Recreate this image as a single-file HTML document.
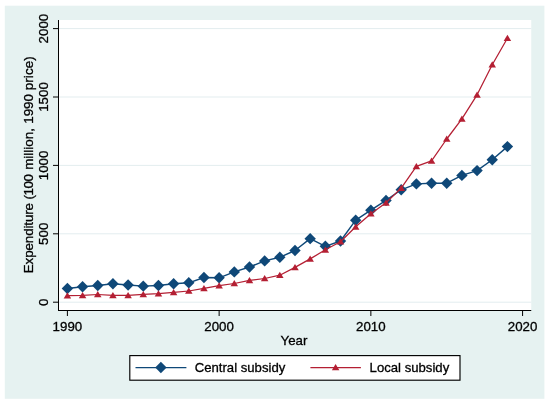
<!DOCTYPE html>
<html><head><meta charset="utf-8"><title>Chart</title>
<style>html,body{margin:0;padding:0;background:#fff}body{width:550px;height:404px;overflow:hidden}</style></head>
<body>
<svg width="550" height="404" viewBox="0 0 550 404" style="display:block">
<rect x="0" y="0" width="550" height="404" fill="#fff"/>
<rect x="4.8" y="5.7" width="539.6" height="393.1" fill="#e6f2f1"/>
<rect x="58.5" y="20" width="472.75" height="290.5" fill="#fff"/>
<line x1="58.5" x2="531.25" y1="302.20" y2="302.20" stroke="#e3edef" stroke-width="1"/>
<line x1="58.5" x2="531.25" y1="233.80" y2="233.80" stroke="#e3edef" stroke-width="1"/>
<line x1="58.5" x2="531.25" y1="165.40" y2="165.40" stroke="#e3edef" stroke-width="1"/>
<line x1="58.5" x2="531.25" y1="97.00" y2="97.00" stroke="#e3edef" stroke-width="1"/>
<line x1="58.5" x2="531.25" y1="28.60" y2="28.60" stroke="#e3edef" stroke-width="1"/>
<polyline points="67.40,288.50 82.57,286.70 97.75,285.50 112.92,283.70 128.09,285.05 143.26,286.15 158.44,285.45 173.61,283.70 188.78,282.80 203.96,277.50 219.13,277.80 234.30,271.90 249.48,267.00 264.65,260.90 279.82,257.30 295.00,250.50 310.17,238.65 325.34,246.30 340.51,241.00 355.69,220.20 370.86,210.20 386.03,200.40 401.21,189.80 416.38,183.90 431.55,183.30 446.73,183.20 461.90,175.40 477.07,170.60 492.24,159.80 507.42,146.60" fill="none" stroke="#0f4878" stroke-width="1.4" stroke-linejoin="round"/>
<path d="M61.70 288.50L67.40 282.80L73.10 288.50L67.40 294.20Z" fill="#0f4878"/>
<path d="M76.87 286.70L82.57 281.00L88.27 286.70L82.57 292.40Z" fill="#0f4878"/>
<path d="M92.05 285.50L97.75 279.80L103.45 285.50L97.75 291.20Z" fill="#0f4878"/>
<path d="M107.22 283.70L112.92 278.00L118.62 283.70L112.92 289.40Z" fill="#0f4878"/>
<path d="M122.39 285.05L128.09 279.35L133.79 285.05L128.09 290.75Z" fill="#0f4878"/>
<path d="M137.56 286.15L143.26 280.45L148.96 286.15L143.26 291.85Z" fill="#0f4878"/>
<path d="M152.74 285.45L158.44 279.75L164.14 285.45L158.44 291.15Z" fill="#0f4878"/>
<path d="M167.91 283.70L173.61 278.00L179.31 283.70L173.61 289.40Z" fill="#0f4878"/>
<path d="M183.08 282.80L188.78 277.10L194.48 282.80L188.78 288.50Z" fill="#0f4878"/>
<path d="M198.26 277.50L203.96 271.80L209.66 277.50L203.96 283.20Z" fill="#0f4878"/>
<path d="M213.43 277.80L219.13 272.10L224.83 277.80L219.13 283.50Z" fill="#0f4878"/>
<path d="M228.60 271.90L234.30 266.20L240.00 271.90L234.30 277.60Z" fill="#0f4878"/>
<path d="M243.78 267.00L249.48 261.30L255.18 267.00L249.48 272.70Z" fill="#0f4878"/>
<path d="M258.95 260.90L264.65 255.20L270.35 260.90L264.65 266.60Z" fill="#0f4878"/>
<path d="M274.12 257.30L279.82 251.60L285.52 257.30L279.82 263.00Z" fill="#0f4878"/>
<path d="M289.30 250.50L295.00 244.80L300.69 250.50L295.00 256.20Z" fill="#0f4878"/>
<path d="M304.47 238.65L310.17 232.95L315.87 238.65L310.17 244.35Z" fill="#0f4878"/>
<path d="M319.64 246.30L325.34 240.60L331.04 246.30L325.34 252.00Z" fill="#0f4878"/>
<path d="M334.81 241.00L340.51 235.30L346.21 241.00L340.51 246.70Z" fill="#0f4878"/>
<path d="M349.99 220.20L355.69 214.50L361.39 220.20L355.69 225.90Z" fill="#0f4878"/>
<path d="M365.16 210.20L370.86 204.50L376.56 210.20L370.86 215.90Z" fill="#0f4878"/>
<path d="M380.33 200.40L386.03 194.70L391.73 200.40L386.03 206.10Z" fill="#0f4878"/>
<path d="M395.51 189.80L401.21 184.10L406.91 189.80L401.21 195.50Z" fill="#0f4878"/>
<path d="M410.68 183.90L416.38 178.20L422.08 183.90L416.38 189.60Z" fill="#0f4878"/>
<path d="M425.85 183.30L431.55 177.60L437.25 183.30L431.55 189.00Z" fill="#0f4878"/>
<path d="M441.03 183.20L446.73 177.50L452.43 183.20L446.73 188.90Z" fill="#0f4878"/>
<path d="M456.20 175.40L461.90 169.70L467.60 175.40L461.90 181.10Z" fill="#0f4878"/>
<path d="M471.37 170.60L477.07 164.90L482.77 170.60L477.07 176.30Z" fill="#0f4878"/>
<path d="M486.54 159.80L492.24 154.10L497.94 159.80L492.24 165.50Z" fill="#0f4878"/>
<path d="M501.72 146.60L507.42 140.90L513.12 146.60L507.42 152.30Z" fill="#0f4878"/>
<polyline points="67.40,295.70 82.57,295.40 97.75,294.50 112.92,295.30 128.09,295.40 143.26,294.40 158.44,293.60 173.61,292.40 188.78,291.00 203.96,288.30 219.13,285.60 234.30,283.50 249.48,280.40 264.65,278.50 279.82,275.20 295.00,267.40 310.17,258.90 325.34,249.80 340.51,241.70 355.69,226.80 370.86,213.70 386.03,202.80 401.21,188.10 416.38,166.40 431.55,160.80 446.73,139.00 461.90,118.80 477.07,94.80 492.24,64.70 507.42,38.20" fill="none" stroke="#b41f33" stroke-width="1.25" stroke-linejoin="round"/>
<path d="M63.65 298.55L67.40 292.30L71.15 298.55Z" fill="#b41f33"/>
<path d="M78.82 298.25L82.57 292.00L86.32 298.25Z" fill="#b41f33"/>
<path d="M94.00 297.35L97.75 291.10L101.50 297.35Z" fill="#b41f33"/>
<path d="M109.17 298.15L112.92 291.90L116.67 298.15Z" fill="#b41f33"/>
<path d="M124.34 298.25L128.09 292.00L131.84 298.25Z" fill="#b41f33"/>
<path d="M139.51 297.25L143.26 291.00L147.01 297.25Z" fill="#b41f33"/>
<path d="M154.69 296.45L158.44 290.20L162.19 296.45Z" fill="#b41f33"/>
<path d="M169.86 295.25L173.61 289.00L177.36 295.25Z" fill="#b41f33"/>
<path d="M185.03 293.85L188.78 287.60L192.53 293.85Z" fill="#b41f33"/>
<path d="M200.21 291.15L203.96 284.90L207.71 291.15Z" fill="#b41f33"/>
<path d="M215.38 288.45L219.13 282.20L222.88 288.45Z" fill="#b41f33"/>
<path d="M230.55 286.35L234.30 280.10L238.05 286.35Z" fill="#b41f33"/>
<path d="M245.73 283.25L249.48 277.00L253.23 283.25Z" fill="#b41f33"/>
<path d="M260.90 281.35L264.65 275.10L268.40 281.35Z" fill="#b41f33"/>
<path d="M276.07 278.05L279.82 271.80L283.57 278.05Z" fill="#b41f33"/>
<path d="M291.25 270.25L295.00 264.00L298.75 270.25Z" fill="#b41f33"/>
<path d="M306.42 261.75L310.17 255.50L313.92 261.75Z" fill="#b41f33"/>
<path d="M321.59 252.65L325.34 246.40L329.09 252.65Z" fill="#b41f33"/>
<path d="M336.76 244.55L340.51 238.30L344.26 244.55Z" fill="#b41f33"/>
<path d="M351.94 229.65L355.69 223.40L359.44 229.65Z" fill="#b41f33"/>
<path d="M367.11 216.55L370.86 210.30L374.61 216.55Z" fill="#b41f33"/>
<path d="M382.28 205.65L386.03 199.40L389.78 205.65Z" fill="#b41f33"/>
<path d="M397.46 190.95L401.21 184.70L404.96 190.95Z" fill="#b41f33"/>
<path d="M412.63 169.25L416.38 163.00L420.13 169.25Z" fill="#b41f33"/>
<path d="M427.80 163.65L431.55 157.40L435.30 163.65Z" fill="#b41f33"/>
<path d="M442.98 141.85L446.73 135.60L450.48 141.85Z" fill="#b41f33"/>
<path d="M458.15 121.65L461.90 115.40L465.65 121.65Z" fill="#b41f33"/>
<path d="M473.32 97.65L477.07 91.40L480.82 97.65Z" fill="#b41f33"/>
<path d="M488.49 67.55L492.24 61.30L495.99 67.55Z" fill="#b41f33"/>
<path d="M503.67 41.05L507.42 34.80L511.17 41.05Z" fill="#b41f33"/>
<line x1="58.5" x2="58.5" y1="20" y2="311.0" stroke="#000" stroke-width="1"/>
<line x1="58.0" x2="531.25" y1="310.5" y2="310.5" stroke="#000" stroke-width="1"/>
<line x1="53.0" x2="58.5" y1="302.20" y2="302.20" stroke="#000" stroke-width="1"/>
<text transform="translate(47.7,302.20) rotate(-90)" text-anchor="middle" font-size="13.3" font-family="Liberation Sans, Arial, sans-serif" stroke="#000" stroke-width="0.3" fill="#000">0</text>
<line x1="53.0" x2="58.5" y1="233.80" y2="233.80" stroke="#000" stroke-width="1"/>
<text transform="translate(47.7,233.80) rotate(-90)" text-anchor="middle" font-size="13.3" font-family="Liberation Sans, Arial, sans-serif" stroke="#000" stroke-width="0.3" fill="#000">500</text>
<line x1="53.0" x2="58.5" y1="165.40" y2="165.40" stroke="#000" stroke-width="1"/>
<text transform="translate(47.7,165.40) rotate(-90)" text-anchor="middle" font-size="13.3" font-family="Liberation Sans, Arial, sans-serif" stroke="#000" stroke-width="0.3" fill="#000">1000</text>
<line x1="53.0" x2="58.5" y1="97.00" y2="97.00" stroke="#000" stroke-width="1"/>
<text transform="translate(47.7,97.00) rotate(-90)" text-anchor="middle" font-size="13.3" font-family="Liberation Sans, Arial, sans-serif" stroke="#000" stroke-width="0.3" fill="#000">1500</text>
<line x1="53.0" x2="58.5" y1="28.60" y2="28.60" stroke="#000" stroke-width="1"/>
<text transform="translate(47.7,28.60) rotate(-90)" text-anchor="middle" font-size="13.3" font-family="Liberation Sans, Arial, sans-serif" stroke="#000" stroke-width="0.3" fill="#000">2000</text>
<line x1="67.40" x2="67.40" y1="310.5" y2="316.0" stroke="#000" stroke-width="1"/>
<text x="67.40" y="330.7" text-anchor="middle" font-size="13.3" font-family="Liberation Sans, Arial, sans-serif" stroke="#000" stroke-width="0.3" fill="#000">1990</text>
<line x1="219.13" x2="219.13" y1="310.5" y2="316.0" stroke="#000" stroke-width="1"/>
<text x="219.13" y="330.7" text-anchor="middle" font-size="13.3" font-family="Liberation Sans, Arial, sans-serif" stroke="#000" stroke-width="0.3" fill="#000">2000</text>
<line x1="370.86" x2="370.86" y1="310.5" y2="316.0" stroke="#000" stroke-width="1"/>
<text x="370.86" y="330.7" text-anchor="middle" font-size="13.3" font-family="Liberation Sans, Arial, sans-serif" stroke="#000" stroke-width="0.3" fill="#000">2010</text>
<line x1="522.59" x2="522.59" y1="310.5" y2="316.0" stroke="#000" stroke-width="1"/>
<text x="522.59" y="330.7" text-anchor="middle" font-size="13.3" font-family="Liberation Sans, Arial, sans-serif" stroke="#000" stroke-width="0.3" fill="#000">2020</text>
<text transform="translate(32.8,238.15) rotate(-90)" text-anchor="middle" letter-spacing="-0.12" font-size="13.4" font-family="Liberation Sans, Arial, sans-serif" stroke="#000" stroke-width="0.3" fill="#000">Expenditure</text>
<text transform="translate(32.8,186.95) rotate(-90)" text-anchor="middle" letter-spacing="-0.43" font-size="13.4" font-family="Liberation Sans, Arial, sans-serif" stroke="#000" stroke-width="0.3" fill="#000">(100</text>
<text transform="translate(32.8,148.9) rotate(-90)" text-anchor="middle" letter-spacing="0.03" font-size="13.4" font-family="Liberation Sans, Arial, sans-serif" stroke="#000" stroke-width="0.3" fill="#000">million,</text>
<text transform="translate(32.8,108.9) rotate(-90)" text-anchor="middle" letter-spacing="0" font-size="13.4" font-family="Liberation Sans, Arial, sans-serif" stroke="#000" stroke-width="0.3" fill="#000">1990</text>
<text transform="translate(32.8,73.2) rotate(-90)" text-anchor="middle" letter-spacing="0.1" font-size="13.4" font-family="Liberation Sans, Arial, sans-serif" stroke="#000" stroke-width="0.3" fill="#000">price)</text>
<text x="294" y="344.7" text-anchor="middle" font-size="13.3" font-family="Liberation Sans, Arial, sans-serif" stroke="#000" stroke-width="0.3" fill="#000">Year</text>
<rect x="129.8" y="355.6" width="330.2" height="24.6" fill="#fff" stroke="#000" stroke-width="1.15"/>
<line x1="135.5" x2="186.4" y1="367.5" y2="367.5" stroke="#0f4878" stroke-width="1.25"/>
<path d="M155.20 367.50L160.90 361.80L166.60 367.50L160.90 373.20Z" fill="#0f4878"/>
<text x="194.7" y="372.2" font-size="13.15" font-family="Liberation Sans, Arial, sans-serif" stroke="#000" stroke-width="0.3" fill="#000">Central subsidy</text>
<line x1="310.4" x2="360.9" y1="367.5" y2="367.5" stroke="#b41f33" stroke-width="1.25"/>
<path d="M331.85 370.35L335.60 364.10L339.35 370.35Z" fill="#b41f33"/>
<text x="369.6" y="372.2" font-size="13.15" font-family="Liberation Sans, Arial, sans-serif" stroke="#000" stroke-width="0.3" fill="#000">Local subsidy</text>
</svg>
</body></html>
